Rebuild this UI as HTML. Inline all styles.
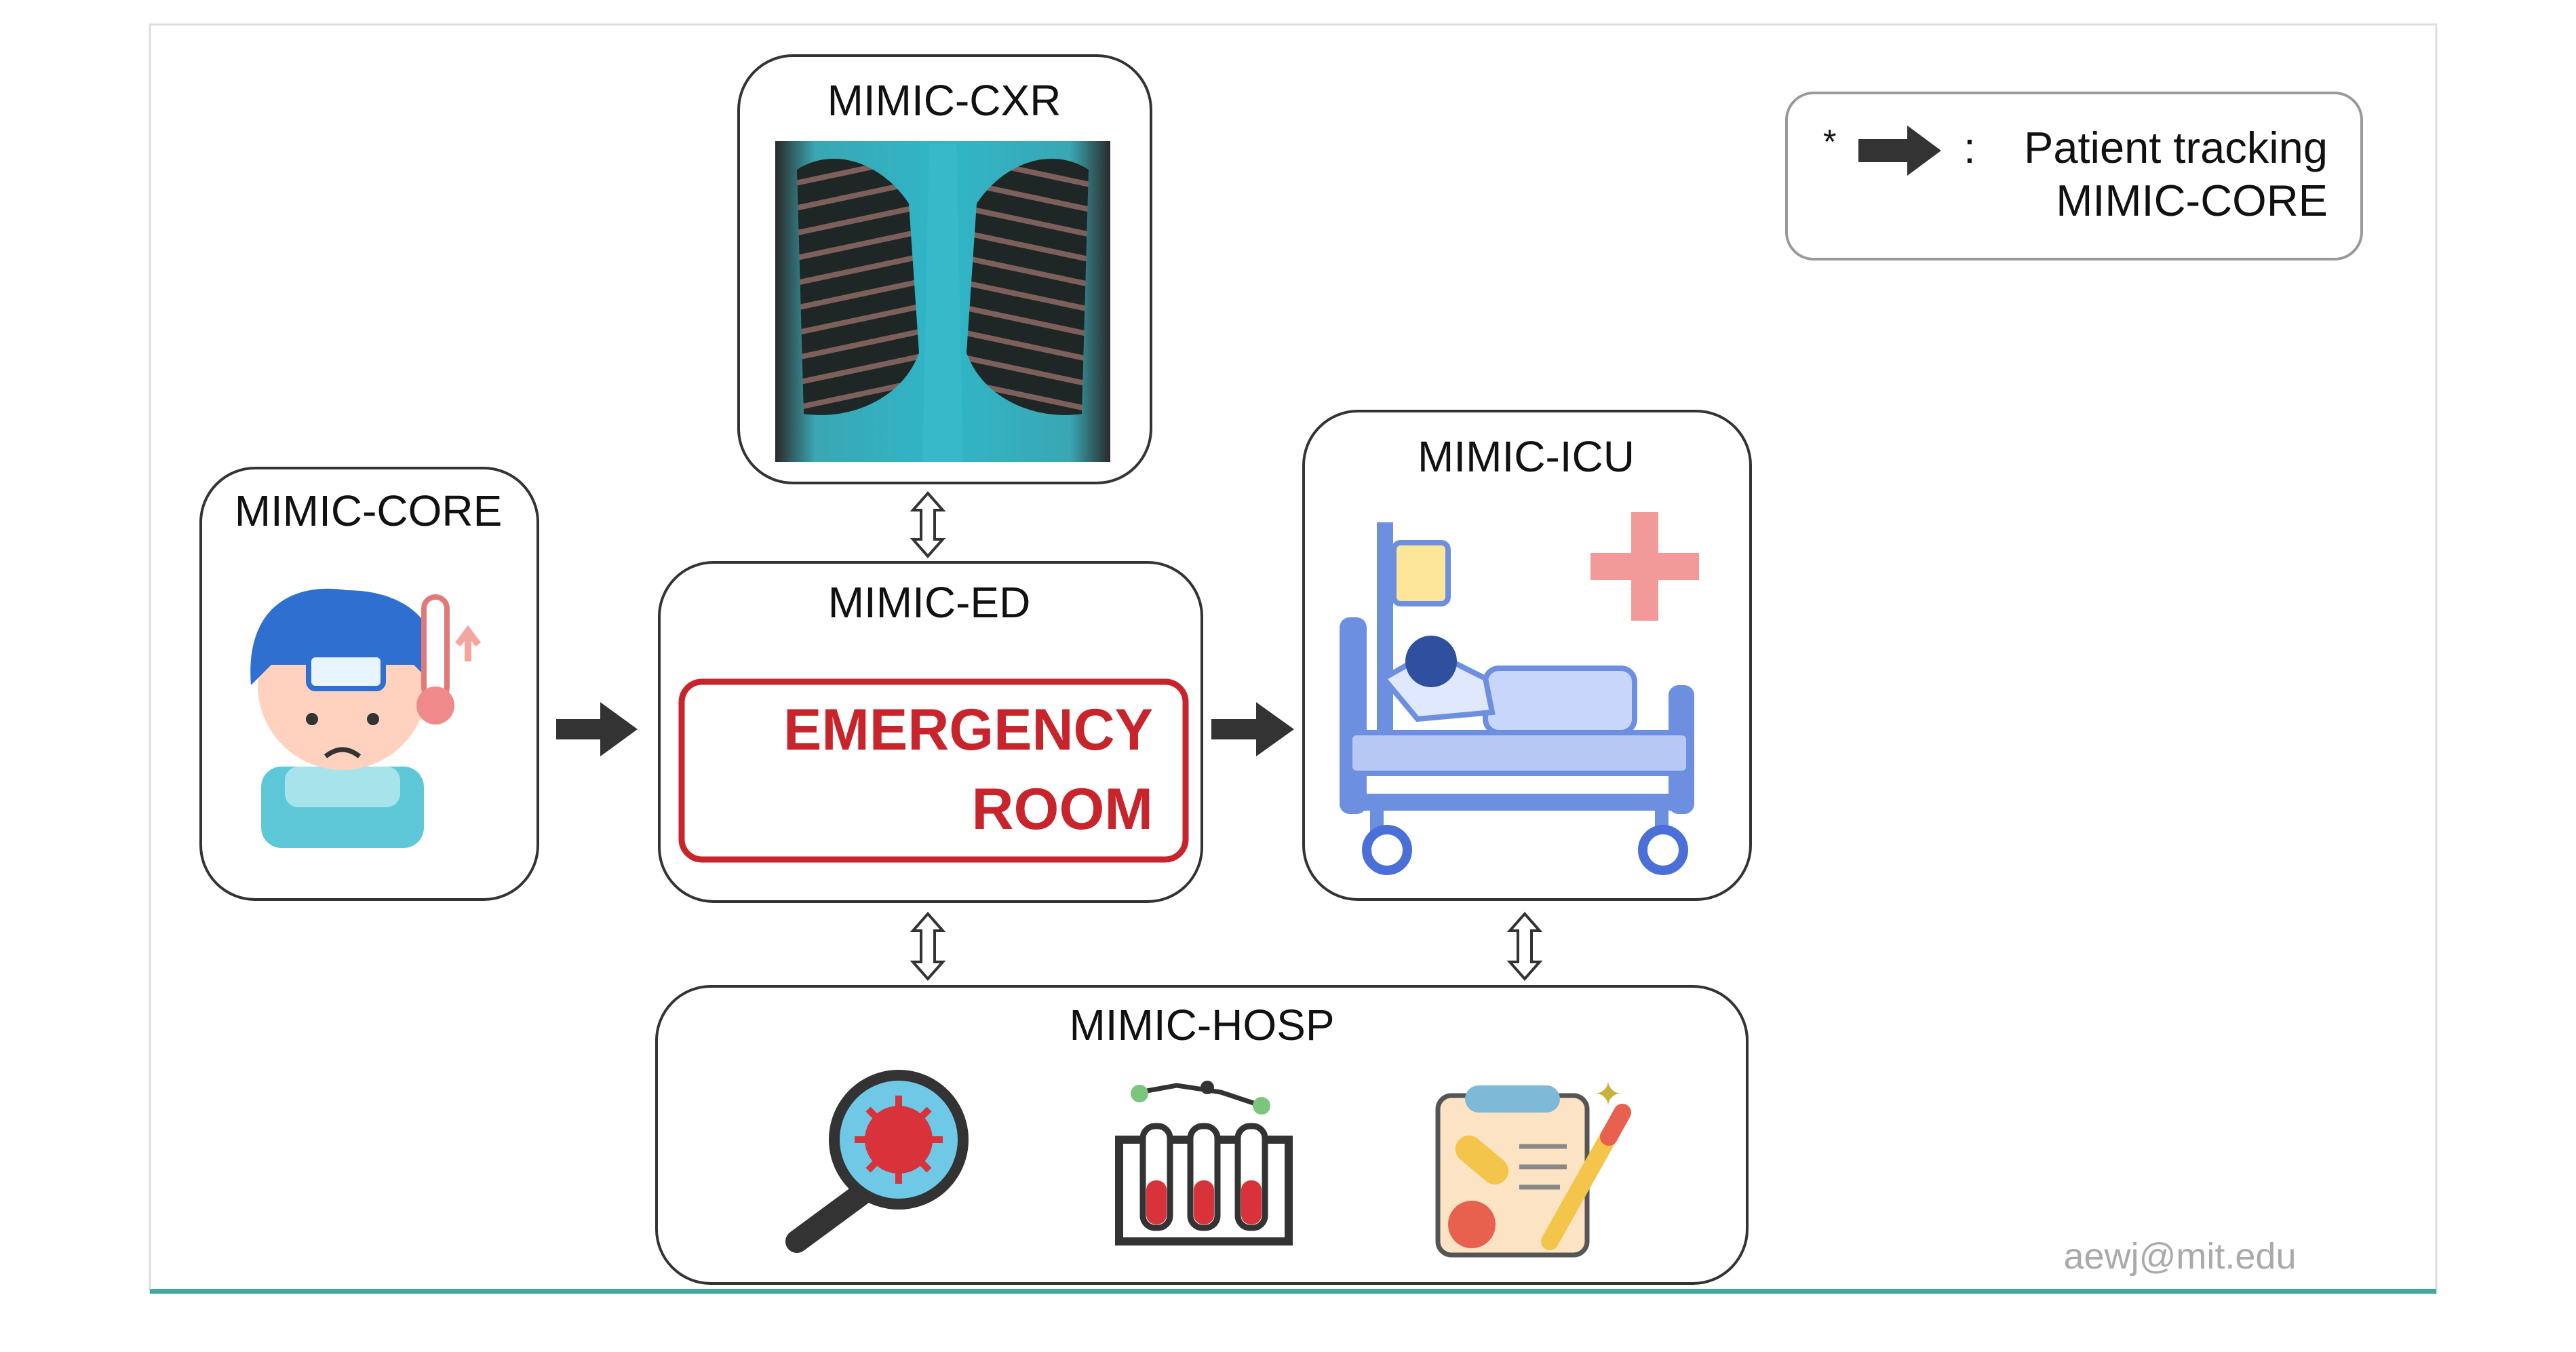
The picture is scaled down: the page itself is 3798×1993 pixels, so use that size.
<!DOCTYPE html>
<html><head><meta charset="utf-8"><style>
html,body{margin:0;padding:0;background:#fff;}
svg{display:block;}
text{font-family:"Liberation Sans",Arial,sans-serif;}
</style></head><body>
<svg width="3798" height="1993" viewBox="0 0 3798 1993" xmlns="http://www.w3.org/2000/svg">
<defs>
<linearGradient id="xg" x1="0" y1="0" x2="1" y2="0">
<stop offset="0" stop-color="#2a2a2a"/><stop offset="0.12" stop-color="#3aa7b3"/><stop offset="0.5" stop-color="#2fb6c8"/><stop offset="0.88" stop-color="#3aa7b3"/><stop offset="1" stop-color="#2a2a2a"/></linearGradient>
<pattern id="ribs" width="40" height="36" patternUnits="userSpaceOnUse" patternTransform="rotate(-12)">
<rect width="40" height="36" fill="#1f2626"/><rect y="0" width="40" height="8" fill="#c98f86" opacity="0.55"/></pattern>
<pattern id="ribs2" width="40" height="36" patternUnits="userSpaceOnUse" patternTransform="rotate(12)">
<rect width="40" height="36" fill="#1f2626"/><rect y="0" width="40" height="8" fill="#c98f86" opacity="0.55"/></pattern>
</defs>
<rect x="221" y="36" width="3371" height="1870" fill="#fff" stroke="#ddd" stroke-width="3"/>
<rect x="221" y="1900" width="3371" height="7" fill="#3fa9a0"/>

<!-- MIMIC-CXR -->
<rect x="1089" y="82" width="608" height="630" rx="80" fill="#fff" stroke="#333" stroke-width="4"/>
<text x="1392" y="170" font-size="64" text-anchor="middle" fill="#111">MIMIC-CXR</text>
<rect x="1143" y="208" width="494" height="473" fill="url(#xg)"/>
<path d="M1175,250 C1230,215 1300,240 1340,300 L1355,520 C1330,590 1250,620 1185,610 Z" fill="url(#ribs)"/>
<path d="M1605,250 C1550,215 1480,240 1440,300 L1425,520 C1450,590 1530,620 1595,610 Z" fill="url(#ribs2)"/>
<path d="M1370,212 L1410,212 L1420,681 L1360,681Z" fill="#3ab9c9" opacity="0.9"/>

<!-- Legend -->
<rect x="2634" y="137" width="848" height="245" rx="40" fill="#fff" stroke="#999" stroke-width="4"/>
<text x="2688" y="226" font-size="50" fill="#111">*</text>
<path d="M2740,205 L2812,205 L2812,185 L2862,222 L2812,259 L2812,239 L2740,239Z" fill="#333"/>
<text x="2895" y="240" font-size="64" fill="#111">:</text>
<text x="3432" y="240" font-size="65" text-anchor="end" fill="#111">Patient tracking</text>
<text x="3432" y="318" font-size="65" text-anchor="end" fill="#111">MIMIC-CORE</text>

<!-- MIMIC-CORE -->
<rect x="296" y="690" width="497" height="636" rx="80" fill="#fff" stroke="#333" stroke-width="4"/>
<text x="543" y="775" font-size="64" text-anchor="middle" fill="#111">MIMIC-CORE</text>
<rect x="385" y="1130" width="240" height="120" rx="30" fill="#5fc8d8"/>
<rect x="420" y="1130" width="170" height="60" rx="20" fill="#a7e3ea"/>
<circle cx="505" cy="1010" r="125" fill="#ffd2c0"/>
<path d="M370,1010 C360,880 450,860 510,870 C600,870 660,920 640,1010 L610,980 L400,980Z" fill="#2f6fd0"/>
<rect x="455" y="965" width="110" height="50" rx="10" fill="#e8f4ff" stroke="#2f6fd0" stroke-width="8"/>
<circle cx="460" cy="1060" r="9" fill="#333"/><circle cx="550" cy="1060" r="9" fill="#333"/>
<path d="M480,1115 Q505,1095 530,1115" stroke="#333" stroke-width="7" fill="none"/>
<rect x="625" y="880" width="34" height="150" rx="17" fill="#fff" stroke="#e07a7a" stroke-width="8"/>
<circle cx="642" cy="1040" r="28" fill="#f08a8a"/>
<path d="M690,975 L690,935 M675,950 L690,930 L705,950" stroke="#f5a5a0" stroke-width="10" fill="none"/>

<path d="M820,1060 L885,1060 L885,1035 L940,1075 L885,1115 L885,1090 L820,1090Z" fill="#333"/>
<path d="M1786,1060 L1852,1060 L1852,1035 L1908,1075 L1852,1115 L1852,1090 L1786,1090Z" fill="#333"/>

<!-- MIMIC-ED -->
<rect x="972" y="829" width="800" height="500" rx="80" fill="#fff" stroke="#333" stroke-width="4"/>
<text x="1370" y="910" font-size="64" text-anchor="middle" fill="#111">MIMIC-ED</text>
<rect x="1005" y="1005" width="743" height="262" rx="30" fill="#fff" stroke="#c8242c" stroke-width="9"/>
<text x="1700" y="1105" font-size="86" font-weight="bold" text-anchor="end" fill="#c8242c" textLength="545" lengthAdjust="spacingAndGlyphs">EMERGENCY</text>
<text x="1700" y="1222" font-size="86" font-weight="bold" text-anchor="end" fill="#c8242c">ROOM</text>

<g fill="#fff" stroke="#333" stroke-width="4">
<path d="M1368,727 L1390,752 L1378,752 L1378,795 L1390,795 L1368,820 L1346,795 L1358,795 L1358,752 L1346,752Z"/>
<path d="M1368,1347 L1390,1372 L1378,1372 L1378,1418 L1390,1418 L1368,1443 L1346,1418 L1358,1418 L1358,1372 L1346,1372Z"/>
<path d="M2248,1347 L2270,1372 L2258,1372 L2258,1418 L2270,1418 L2248,1443 L2226,1418 L2238,1418 L2238,1372 L2226,1372Z"/>
</g>

<!-- MIMIC-ICU -->
<rect x="1922" y="606" width="659" height="720" rx="80" fill="#fff" stroke="#333" stroke-width="4"/>
<text x="2250" y="695" font-size="64" text-anchor="middle" fill="#111">MIMIC-ICU</text>
<path d="M2405,755 h40 v60 h60 v40 h-60 v60 h-40 v-60 h-60 v-40 h60Z" fill="#f29a9a"/>
<rect x="2030" y="770" width="24" height="340" fill="#6d8fe0"/>
<rect x="2055" y="800" width="80" height="90" rx="10" fill="#fde59a" stroke="#6d8fe0" stroke-width="8"/>
<rect x="1975" y="910" width="40" height="290" rx="15" fill="#6d8fe0"/>
<rect x="2460" y="1010" width="38" height="190" rx="15" fill="#6d8fe0"/>
<rect x="1990" y="1080" width="500" height="60" rx="10" fill="#b7c8f5" stroke="#6d8fe0" stroke-width="8"/>
<rect x="2190" y="985" width="220" height="95" rx="20" fill="#c7d6fa" stroke="#6d8fe0" stroke-width="8"/>
<path d="M2040,1000 L2090,1060 L2200,1050 L2190,1000 L2110,960Z" fill="#dfe8fd" stroke="#6d8fe0" stroke-width="8"/>
<circle cx="2110" cy="975" r="38" fill="#2f4f9f"/>
<rect x="1990" y="1170" width="500" height="25" fill="#6d8fe0"/>
<rect x="2020" y="1195" width="20" height="50" fill="#6d8fe0"/><rect x="2440" y="1195" width="20" height="50" fill="#6d8fe0"/>
<circle cx="2045" cy="1253" r="30" fill="#fff" stroke="#4a6fd6" stroke-width="14"/>
<circle cx="2452" cy="1253" r="30" fill="#fff" stroke="#4a6fd6" stroke-width="14"/>

<!-- MIMIC-HOSP -->
<rect x="968" y="1454" width="1608" height="438" rx="80" fill="#fff" stroke="#333" stroke-width="4"/>
<text x="1772" y="1533" font-size="64" text-anchor="middle" fill="#111">MIMIC-HOSP</text>
<path d="M1270,1760 L1175,1830" stroke="#333" stroke-width="34" stroke-linecap="round"/>
<circle cx="1325" cy="1680" r="95" fill="#6fc9e6" stroke="#333" stroke-width="16"/>
<circle cx="1325" cy="1680" r="50" fill="#d8323a"/>
<g stroke="#d8323a" stroke-width="10"><path d="M1325,1615 v130 M1260,1680 h130 M1280,1635 l90,90 M1370,1635 l-90,90"/></g>
<path d="M1680,1610 L1735,1600 L1800,1610 L1860,1630" stroke="#333" stroke-width="7" fill="none"/>
<circle cx="1680" cy="1612" r="13" fill="#7cc57c"/><circle cx="1860" cy="1630" r="13" fill="#7cc57c"/><circle cx="1780" cy="1603" r="10" fill="#333"/>
<rect x="1650" y="1680" width="250" height="150" fill="none" stroke="#333" stroke-width="12"/>
<g fill="#fff" stroke="#333" stroke-width="9"><rect x="1685" y="1660" width="40" height="150" rx="18"/><rect x="1755" y="1660" width="40" height="150" rx="18"/><rect x="1825" y="1660" width="40" height="150" rx="18"/></g>
<g fill="#d8323a"><rect x="1690" y="1740" width="30" height="65" rx="14"/><rect x="1760" y="1740" width="30" height="65" rx="14"/><rect x="1830" y="1740" width="30" height="65" rx="14"/></g>
<rect x="2120" y="1615" width="220" height="235" rx="20" fill="#fbe3c3" stroke="#555" stroke-width="7"/>
<path d="M2180,1600 h100 a20,20 0 0 1 0,40 h-100 a20,20 0 0 1 0,-40Z" fill="#7fb9d8"/>
<g stroke="#888" stroke-width="7"><path d="M2240,1690 h70 M2240,1720 h70 M2240,1750 h60"/></g>
<rect x="2140" y="1690" width="90" height="40" rx="20" fill="#f3c54a" transform="rotate(40 2185 1710)"/>
<circle cx="2170" cy="1805" r="35" fill="#e8604e"/>
<path d="M2375,1670 L2285,1830" stroke="#f3c54a" stroke-width="26" stroke-linecap="round"/>
<path d="M2392,1640 L2372,1676" stroke="#e8604e" stroke-width="26" stroke-linecap="round"/>
<text x="2350" y="1630" font-size="50" fill="#c9b23a">✦</text>

<text x="3214" y="1870" font-size="54" text-anchor="middle" fill="#aaa">aewj@mit.edu</text>
</svg>
</body></html>
